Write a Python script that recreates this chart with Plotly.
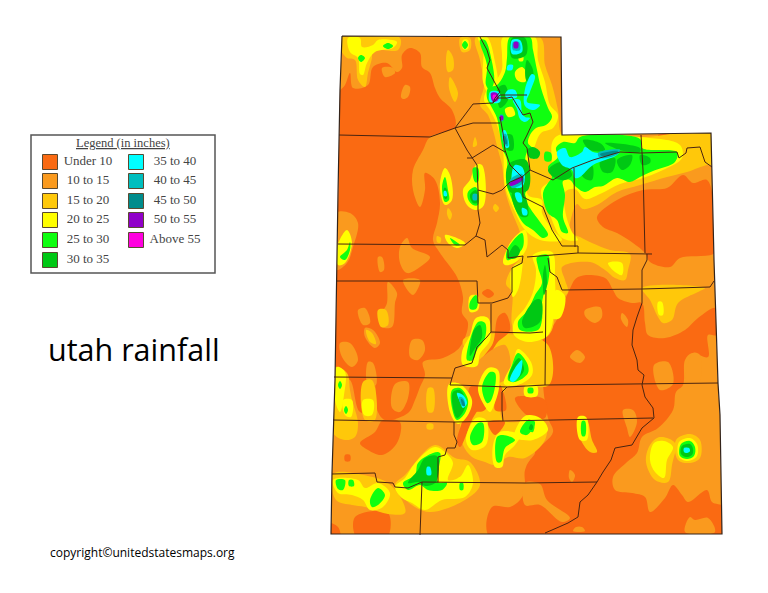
#Utah rainfall map, bands (x, y in picture units)
import plotly.graph_objects as go

#Legend
band_labels = ["Under 10", "10 to 15", "15 to 20", "20 to 25", "25 to 30", "30 to 35",
               "35 to 40", "40 to 45", "45 to 50", "50 to 55", "Above 55"]
band_colours = ["#FA6A12", "#FA9A1E", "#FFC80A", "#FFFF00", "#10FF10", "#00C814",
                "#00FFFF", "#00BEBE", "#008C8C", "#9000C8", "#FF00E0"]

state_outline = [(342,36),(561,37),(562,135),(711,133),(714,260),(718,383),(720,415),(722,530),(722,534),
                 (331,534),(332,473),(335,380),(337,280),(338,193),(340,90),(342,36)]

under_10 = [
    [(339,93),(345,85),(350,73),(353,88),(368,85),(373,67),(387,63),(397,72),(402,68),(402,55),(410,48),(420,53),
     (422,67),(430,73),(435,88),(440,98),(452,110),(455,127),(430,137),(423,150),(413,170),(413,190),(420,207),
     (425,190),(425,173),(435,180),(440,203),(437,223),(433,240),(440,253),(457,277),(463,297),(462,313),(468,323),
     (460,347),(443,358),(423,362),(425,375),(420,387),(415,400),(408,413),(385,420),(378,412),(375,385),(372,412),
     (360,412),(350,380),(342,378),(335,372),(336,280),(338,193)],
    [(400,422),(397,443),(382,455),(368,450),(360,443),(375,432),(383,420)],
    [(597,217),(617,200),(643,190),(667,188),(683,175),(693,183),(707,180),(715,220),(716,252),(680,258),(670,267),
     (650,262),(645,253),(633,243),(617,233),(603,227)],
    [(578,277),(605,278),(613,290),(618,298),(632,303),(642,303),(645,323),(648,335),(665,338),(685,330),(698,318),
     (716,308),(717,335),(708,335),(708,357),(692,353),(685,360),(683,385),(676,392),(673,410),(658,428),(642,437),
     (637,453),(627,462),(613,477),(615,490),(632,493),(645,497),(650,512),(665,498),(673,485),(682,495),(688,502),
     (707,490),(712,502),(724,507),(726,538),(490,538),(492,507),(510,507),(520,500),(525,490),(525,470),(535,452),
     (553,432),(548,418),(543,383),(545,333),(555,323),(568,293)],
    [(482,293),(488,289),(494,294),(489,298)],
    [(355,517),(388,513),(387,538),(357,538)],
    [(328,523),(338,527),(340,538),(328,538)],
    [(658,135),(673,135),(667,143)],
    [(702,145),(712,147),(712,152),(706,154)],
    [(345,455),(350,455),(350,461),(345,461)],
]

ten_15 = [
    [(382,68),(393,68),(395,73),(385,77)],
    [(401,97),(405,85),(410,87),(408,97),(403,99)],
    [(336,213),(350,213),(358,223),(353,247),(347,263),(336,270)],
    [(400,247),(407,238),(412,248),(430,257),(420,267),(407,273),(400,263)],
    [(378,257),(382,257),(384,270),(380,272)],
    [(388,282),(397,293),(395,303),(392,327),(382,327),(380,317),(387,303)],
    [(403,280),(420,280),(413,295)],
    [(358,310),(365,308),(370,323),(363,325)],
    [(365,328),(373,330),(380,343),(375,348),(365,337)],
    [(340,343),(350,343),(358,360),(352,367),(342,357)],
    [(412,340),(422,340),(425,350),(418,360),(410,357)],
    [(368,362),(373,363),(376,385),(368,385)],
    [(395,384),(408,382),(408,398),(400,412),(392,408)],
    [(585,310),(600,307),(602,317),(595,323),(585,316)],
    [(570,357),(577,350),(585,357),(580,363)],
    [(622,313),(628,320),(627,327),(621,319)],
    [(623,410),(633,410),(637,422),(630,437),(627,428)],
    [(570,470),(575,475),(572,482),(569,478)],
    [(525,483),(540,484),(547,500),(570,518),(562,522),(540,505),(525,505)],
    [(525,445),(535,452),(530,460),(525,465)],
    [(695,520),(708,518),(715,532),(685,532),(690,517)],
    [(573,531),(585,531),(582,527),(576,527)],
    [(693,353),(700,355),(698,385),(686,385)],
    [(654,365),(668,362),(673,384),(660,390)],
]

gold = [
    [(476,37),(540,37),(545,65),(552,85),(558,110),(562,134),(580,136),(645,137),(711,133),(712,165),(707,165),
     (687,172),(667,177),(640,185),(617,192),(597,205),(583,209),(577,204),(572,215),(570,232),(580,237),(592,243),
     (610,250),(630,254),(628,270),(625,280),(615,278),(605,270),(590,262),(562,267),(565,280),(568,292),(558,303),
     (552,330),(545,338),(520,340),(512,325),(512,292),(506,284),(512,268),(520,258),(522,240),(510,207),(505,190),
     (502,165),(498,150),(493,130),(488,115),(480,105),(484,85),(480,60)],
    [(341,37),(400,38),(398,50),(373,50),(372,58),(368,73),(365,87),(358,80),(355,60),(347,58),(341,50)],
    [(460,38),(470,38),(470,50),(462,52)],
    [(448,50),(453,57),(453,70),(448,72),(446,60)],
    [(450,77),(458,93),(455,102),(449,88)],
    [(475,137),(477,145),(473,147)],
    [(448,208),(452,214),(450,220),(447,214)],
    [(437,236),(441,238),(440,243),(437,242)],
    [(495,204),(499,208),(496,212),(493,208)],
    [(642,288),(705,288),(698,292),(678,303),(672,320),(663,323),(658,317),(650,300)],
    [(378,310),(386,310),(388,325),(381,327)],
    [(366,330),(372,333),(376,344),(370,342)],
    [(335,367),(347,373),(350,390),(352,400),(358,423),(355,437),(345,440),(333,433),(333,400)],
    [(363,382),(372,380),(375,420),(365,420)],
    [(428,388),(433,388),(433,412),(428,412)],
    [(427,424),(433,424),(433,429),(427,429)],
    [(463,340),(520,335),(548,345),(549,385),(510,385),(503,395),(503,420),(545,422),(545,440),(525,458),(508,457),
     (495,465),(485,462),(472,457),(463,445),(460,425),(470,395),(478,370)],
    [(333,474),(368,476),(388,483),(402,500),(405,513),(388,514),(365,507),(352,505),(336,500)],
    [(395,485),(405,475),(435,445),(455,458),(470,462),(480,485),(465,500),(430,512),(412,505)],
    [(526,415),(536,415),(546,430),(535,440),(526,435)],
    [(578,420),(586,418),(592,440),(597,452),(590,452),(580,438)],
    [(646,462),(650,445),(660,437),(675,443),(672,465),(668,482),(655,480)],
    [(676,440),(690,434),(700,440),(700,458),(690,463),(678,460)],
    [(530,152),(540,150),(548,150),(550,163),(545,173),(540,185),(530,188),(528,170)],
]

#South of the middle the dry streaks sit inside the 15 to 20 area, so they go on after it
south_under_10 = [
    [(515,398),(526,396),(545,400),(545,418),(528,416)],
    [(498,317),(505,313),(510,330),(497,343),(483,367),(482,360),(493,343)],
    [(468,402),(482,400),(472,420),(460,447),(457,442),(462,422)],
    [(488,422),(505,422),(495,435)],
    [(470,387),(487,387),(485,410),(472,410)],
    [(500,385),(506,410),(495,410)],
]

south_ten_15 = [
    [(472,368),(505,345),(508,378),(470,384)],
]

yellow = [
    [(348,38),(360,38),(362,47),(373,45),(378,40),(397,42),(393,48),(375,52),(367,63),(363,75),(360,74),(358,58),(350,52)],
    [(463,40),(468,40),(468,49),(463,49)],
    [(503,37),(535,37),(538,60),(545,82),(550,105),(558,115),(553,128),(541,133),(534,148),(527,165),(528,195),
     (542,200),(542,213),(553,230),(562,240),(540,240),(525,230),(515,212),(505,186),(503,150),(497,125),(490,110),
     (484,100),(488,88),(497,79),(502,69),(502,55)],
    [(478,37),(487,37),(495,62),(497,84),(488,92),(483,82),(483,50)],
    [(476,165),(482,165),(484,205),(476,210),(467,205),(463,190),(470,180)],
    [(445,168),(450,175),(452,200),(445,205),(440,190),(441,177)],
    [(445,235),(465,243),(458,248),(448,243)],
    [(347,230),(352,243),(345,263),(338,265),(336,250)],
    [(503,262),(512,240),(525,230),(527,247),(516,262),(505,265)],
    [(512,268),(522,263),(522,270),(518,290),(513,297)],
    [(559,135),(640,137),(680,145),(682,158),(663,170),(640,179),(620,184),(600,194),(585,199),(575,189),(565,192),
     (565,210),(572,232),(578,240),(562,238),(550,215),(541,190),(552,178),(552,143)],
    [(642,140),(653,143),(677,147),(677,153),(650,158),(642,150)],
    [(608,263),(622,263),(622,275),(615,272)],
    [(658,302),(662,302),(663,315),(659,315)],
    [(533,255),(552,252),(555,280),(555,300),(548,335),(528,342),(514,335),(514,322),(525,308),(533,292),(536,270)],
    [(556,290),(565,296),(560,318),(552,318)],
    [(476,318),(488,318),(490,340),(480,354),(477,366),(463,365),(462,352),(470,335)],
    [(470,296),(478,296),(478,310),(470,312)],
    [(504,384),(513,362),(518,349),(531,362),(532,375),(518,385)],
    [(478,388),(488,368),(498,370),(499,388),(494,405),(490,412),(484,405)],
    [(449,384),(460,384),(472,400),(468,415),(458,424),(450,412)],
    [(466,440),(476,418),(486,420),(486,445),(472,450)],
    [(514,438),(525,416),(540,418),(548,430),(533,440),(523,440)],
    [(493,445),(500,432),(520,435),(515,445),(505,455),(502,467),(495,467)],
    [(525,386),(537,386),(537,396),(525,396)],
    [(337,367),(345,372),(344,395),(340,412),(335,400)],
    [(343,400),(352,400),(351,417),(345,415)],
    [(363,400),(373,400),(372,415),(364,415)],
    [(333,480),(358,480),(365,488),(378,483),(390,493),(383,507),(370,510),(363,500),(352,495),(338,493)],
    [(395,487),(405,478),(415,463),(435,447),(448,455),(453,463),(448,480),(460,477),(468,465),(473,483),(465,497),
     (442,500),(425,510),(412,503),(402,498)],
    [(458,478),(466,478),(466,494),(458,494)],
    [(527,416),(536,418),(537,430),(530,437),(525,433)],
    [(578,417),(586,417),(587,440),(580,440)],
    [(654,443),(664,441),(673,447),(667,460),(664,478),(655,472),(650,460)],
    [(679,442),(690,438),(697,444),(697,456),(688,461),(679,457)],
]

lime = [
    [(510,37),(530,37),(533,50),(537,70),(541,88),(548,108),(552,117),(546,125),(536,128),(530,135),(528,143),
     (532,148),(527,152),(525,163),(527,185),(525,198),(530,208),(540,222),(548,235),(543,238),(533,230),(524,224),
     (518,215),(512,200),(507,185),(507,160),(503,150),(500,135),(497,118),(491,106),(487,98),(488,88),(497,85),
     (505,72),(507,58)],
    [(480,40),(485,40),(492,62),(494,82),(490,90),(486,85),(487,65)],
    [(580,137),(640,139),(642,148),(677,152),(675,162),(653,171),(640,177),(630,182),(617,178),(603,186),(595,187),
     (585,192),(575,186),(570,180),(563,181),(565,195),(563,217),(568,233),(562,232),(557,220),(548,213),(543,193),
     (548,183),(552,177),(548,167),(558,157),(556,148),(563,142),(575,143)],
    [(545,152),(551,153),(551,161),(545,161)],
    [(388,43),(393,46),(388,49),(383,46)],
    [(361,55),(365,58),(361,62),(358,58)],
    [(465,41),(468,45),(465,49),(462,45)],
    [(473,168),(478,168),(478,182),(475,182)],
    [(468,192),(475,187),(478,190),(478,205),(473,205),(468,199)],
    [(442,187),(445,177),(448,190),(449,200),(445,202)],
    [(450,238),(460,245),(455,245)],
    [(340,257),(347,250),(350,242),(350,250),(345,260)],
    [(507,250),(522,233),(523,247),(513,258),(507,260)],
    [(537,257),(548,255),(548,283),(545,290),(542,303),(542,320),(538,330),(520,330),(518,322),(528,310),(535,295),(542,283),(538,267)],
    [(476,295),(478,300),(476,309),(470,309),(470,302)],
    [(467,360),(478,322),(485,323),(485,338),(477,350),(473,360)],
    [(508,380),(512,365),(518,353),(527,363),(528,373),(515,382)],
    [(482,387),(490,372),(495,373),(495,387),(490,402),(487,403)],
    [(452,390),(460,388),(468,400),(465,413),(457,420),(452,408)],
    [(470,437),(478,423),(483,423),(482,442),(473,445)],
    [(520,432),(528,420),(535,422),(527,435)],
    [(497,437),(503,435),(515,440),(505,448),(501,462),(497,462)],
    [(528,388),(533,388),(533,393),(528,393)],
    [(403,483),(415,475),(418,463),(433,453),(440,453),(438,482),(447,483),(442,490),(428,490),(420,485),(408,490)],
    [(336,480),(345,480),(343,490),(338,489)],
    [(349,480),(353,480),(354,486),(349,486)],
    [(370,500),(378,488),(385,495),(378,505),(372,507)],
    [(460,483),(463,483),(463,490),(460,490)],
    [(528,420),(534,422),(533,432),(528,430)],
    [(582,421),(585,421),(585,436),(582,436)],
    [(681,444),(690,441),(695,447),(694,456),(687,459),(680,456)],
    [(340,381),(342,385),(340,389),(338,385)],
    [(346,406),(348,410),(346,414),(344,410)],
]

#Drier pockets inside the wet corridor
corridor_yellow = [
    [(515,72),(522,67),(527,74),(525,82),(517,80)],
    [(505,109),(512,107),(515,115),(508,117)],
    [(519,56),(523,56),(523,61),(519,61)],
]

green = [
    [(512,38),(525,38),(526,55),(512,58)],
    [(527,60),(533,70),(532,85),(526,80)],
    [(498,88),(505,85),(508,100),(500,108)],
    [(583,140),(600,143),(605,150),(590,150)],
    [(605,143),(640,148),(640,152),(620,150)],
    [(600,162),(615,158),(612,172),(603,172)],
    [(617,160),(632,155),(630,165),(622,170)],
    [(580,170),(592,165),(592,180),(584,178)],
    [(640,155),(650,158),(650,163),(642,165)],
    [(548,170),(562,162),(572,175),(565,180),(555,178)],
    [(527,150),(533,147),(540,152),(538,158),(530,158)],
    [(505,135),(512,135),(513,150),(507,150)],
    [(508,165),(526,160),(528,190),(510,192)],
    [(512,193),(522,190),(528,216),(520,216)],
    [(508,258),(515,245),(520,250),(516,258)],
    [(474,330),(480,325),(482,337),(474,350),(470,356)],
    [(535,300),(541,300),(540,322),(525,328),(522,322)],
    [(545,265),(547,285),(544,295),(543,275)],
    [(408,483),(418,470),(425,458),(437,456),(436,482),(425,486),(418,482)],
    [(509,378),(513,365),(519,358),(524,370),(515,380)],
    [(453,392),(460,390),(466,402),(463,412),(457,418),(453,408)],
    [(682,446),(690,444),(693,449),(692,455),(686,457),(681,454)],
    [(531,424),(533,426),(532,430),(529,429)],
    [(444,188),(446,188),(447,198),(445,199)],
    [(470,195),(476,190),(477,203),(473,203)],
]

cyan = [
    [(512,40),(520,40),(522,52),(512,54)],
    [(508,65),(513,65),(512,70),(507,70)],
    [(525,89),(532,74),(535,76),(530,92),(527,102),(540,105),(534,110),(525,106)],
    [(508,90),(515,90),(517,97),(508,99),(505,95)],
    [(513,100),(520,100),(522,112),(525,117),(530,118),(525,122),(520,119),(517,109)],
    [(490,92),(499,92),(500,102),(490,102)],
    [(512,172),(515,165),(522,167),(525,177),(522,187),(513,187)],
    [(515,193),(520,193),(522,202),(518,202)],
    [(522,208),(527,210),(527,215),(523,215)],
    [(502,132),(505,130),(509,147),(506,148)],
    [(557,152),(565,148),(570,157),(582,152),(585,147),(593,152),(603,153),(620,150),(617,155),(593,165),(580,177),
     (575,178),(572,170),(562,165)],
    [(510,380),(515,368),(522,360),(520,375),(513,382)],
    [(457,393),(463,395),(467,403),(463,408),(460,402)],
    [(427,467),(430,467),(431,475),(427,475)],
    [(444,191),(446,191),(447,196),(444,196)],
    [(684,448),(689,448),(690,451),(687,453),(684,452)],
]

teal_40 = [
    [(513,42),(519,42),(520,50),(513,50)],
    [(492,94),(498,94),(498,100),(492,100)],
    [(510,180),(522,174),(524,182),(512,188)],
    [(504,134),(506,134),(508,146),(506,146)],
    [(598,153),(620,150),(618,154),(600,158)],
    [(459,397),(463,398),(465,404),(462,406)],
    [(473,194),(477,194),(477,200),(473,200)],
    [(500,115),(503,115),(503,121),(500,121)],
]

teal_45 = [
    [(512,182),(522,176),(523,180),(513,185)],
    [(600,154),(618,151),(616,153),(602,156)],
    [(461,399),(463,400),(465,406),(463,406)],
    [(503,136),(505,136),(507,144),(505,144)],
]

purple = [
    [(514,42),(518,42),(518,48),(514,48)],
    [(491,93),(497,93),(498,100),(493,102)],
    [(509,184),(522,177),(523,179),(511,186)],
    [(500,116),(503,116),(503,120),(500,120)],
]

magenta = [
    [(493,95),(496,95),(496,99),(493,99)],
]

#Drawing order, each list with its position in band_colours
draw_order = [(under_10, 0), (ten_15, 1), (gold, 2), (south_under_10, 0), (south_ten_15, 1), (yellow, 3), (lime, 4),
              (corridor_yellow, 3), (green, 5), (cyan, 6), (teal_40, 7), (teal_45, 8), (purple, 9), (magenta, 10)]

#County lines
county_lines = [
    [(339,135),(387,136),(430,137),(455,128),(473,104),(493,103),(500,95),(527,95)],
    [(455,128),(473,123),(500,123)],
    [(455,128),(467,150),(477,165),(478,190),(478,210),(480,223),(476,236),(465,245),(338,244)],
    [(476,236),(485,240),(487,257),(502,245),(508,250),(508,258),(523,256),(522,263),(512,268),(512,292),(508,298),(492,303),(478,303),(477,281)],
    [(478,190),(493,194),(502,190),(510,182),(522,177)],
    [(467,158),(472,158),(493,145),(505,152)],
    [(480,37),(487,50),(490,60),(487,68),(495,83),(500,92),(495,98),(493,103)],
    [(500,117),(503,133),(505,150),(510,165),(523,178)],
    [(497,98),(507,98),(512,97),(523,115),(530,113),(533,122),(527,135),(523,143),(527,148),(530,170)],
    [(530,170),(553,180),(572,168),(593,160),(620,152),(640,153),(677,152),(679,158),(686,153),(687,148),(700,147),(705,162),(712,167)],
    [(641,135),(643,170),(645,253)],
    [(574,168),(575,247)],
    [(530,170),(522,177),(523,197),(543,207),(552,230),(562,246),(578,246),(578,253)],
    [(527,257),(578,253),(652,254)],
    [(647,254),(647,260),(642,270),(642,303),(637,317),(633,330),(632,345),(637,360),(638,370),(644,375),(642,385),
     (645,397),(653,408),(654,418),(642,428),(632,445),(615,448),(611,460),(603,472),(597,482),(588,495),(580,502),
     (578,517),(568,523),(552,530),(545,533)],
    [(548,258),(550,272),(557,277),(562,290),(642,289),(710,287),(714,281)],
    [(546,290),(545,385)],
    [(491,332),(530,333),(543,332)],
    [(337,281),(477,281)],
    [(491,304),(491,332),(487,337),(477,347),(472,363),(455,368),(452,378),(450,385),(457,385),(507,387),(502,392),(502,410),(503,421)],
    [(334,377),(452,378)],
    [(507,387),(545,385),(718,383)],
    [(333,420),(455,422),(653,418)],
    [(454,422),(454,435),(457,442),(455,448),(447,448),(445,455),(438,457),(438,482)],
    [(332,474),(375,473),(377,482),(393,483),(395,487),(408,488),(422,482),(525,483),(597,482)],
    [(422,482),(420,535)],
]

#Mask: goes round a frame and cuts in to the state outline (wound the other way) so nothing spills out of the border
frame = [(300,5),(762,5),(762,575),(300,575),(300,5)]
mask = frame + state_outline[::-1] + [(300,5)]

fig = go.Figure()

def add_area(points, colour, smooth=True):
    closed = list(points) + [points[0]]
    fig.add_trace(go.Scatter(x=[p[0] for p in closed], y=[p[1] for p in closed], mode="lines", fill="toself",
                             fillcolor=colour, line=dict(width=0, color=colour, shape="spline" if smooth else "linear", smoothing=1),
                             hoverinfo="skip", showlegend=False))

#Whole state starts as 10 to 15, then the bands go on top from dry to wet
add_area(state_outline, band_colours[1], smooth=False)
for regions, colour_index in draw_order:
    for region in regions:
        add_area(region, band_colours[colour_index])

fig.add_trace(go.Scatter(x=[p[0] for p in mask], y=[p[1] for p in mask], mode="lines", fill="toself", fillcolor="white",
                         line=dict(width=0), hoverinfo="skip", showlegend=False))

for line in county_lines:
    fig.add_trace(go.Scatter(x=[p[0] for p in line], y=[p[1] for p in line], mode="lines",
                             line=dict(color="#4a2410", width=1), hoverinfo="skip", showlegend=False))
fig.add_trace(go.Scatter(x=[p[0] for p in state_outline], y=[p[1] for p in state_outline], mode="lines",
                         line=dict(color="#33231a", width=1.2), hoverinfo="skip", showlegend=False))

#Legend box
fig.add_shape(type="rect", x0=31, y0=135, x1=215, y1=273, line=dict(color="#555555", width=1.5), fillcolor="white", layer="below")
rows_y = [162, 181, 201, 220, 240, 260]
swatch_x = [50 if i < 6 else 136 for i in range(len(band_labels))]
swatch_y = [rows_y[i] if i < 6 else rows_y[i - 6] for i in range(len(band_labels))]
label_x = [88 if i < 6 else 175 for i in range(len(band_labels))]
fig.add_trace(go.Scatter(x=swatch_x, y=swatch_y, mode="markers", hoverinfo="skip", showlegend=False,
                         marker=dict(symbol="square", size=15, color=band_colours, line=dict(color="#5a4a30", width=1))))
fig.add_trace(go.Scatter(x=label_x, y=swatch_y, mode="text", text=band_labels, textposition="middle center", hoverinfo="skip",
                         showlegend=False, textfont=dict(family="Liberation Serif", size=13, color="#444444")))

fig.add_annotation(x=123, y=143, text="<u>Legend (in inches)</u>", showarrow=False,
                   font=dict(family="Liberation Serif", size=12.5, color="#444444"))
fig.add_annotation(x=46, y=349, xanchor="left", text="utah rainfall", showarrow=False,
                   font=dict(family="Open Sans", size=30.5, color="black"))
fig.add_annotation(x=48, y=552, xanchor="left", text="copyright©unitedstatesmaps.org", showarrow=False,
                   font=dict(family="Open Sans", size=12, color="black"))

fig.update_xaxes(range=[0, 768], visible=False, fixedrange=True)
fig.update_yaxes(range=[593, 0], visible=False, fixedrange=True)
fig.update_layout(width=768, height=593, margin=dict(l=0, r=0, t=0, b=0), plot_bgcolor="white", paper_bgcolor="white",
                  showlegend=False)

fig.write_html("out.html", config=dict(displayModeBar=False), post_script="document.body.style.margin='0';")
